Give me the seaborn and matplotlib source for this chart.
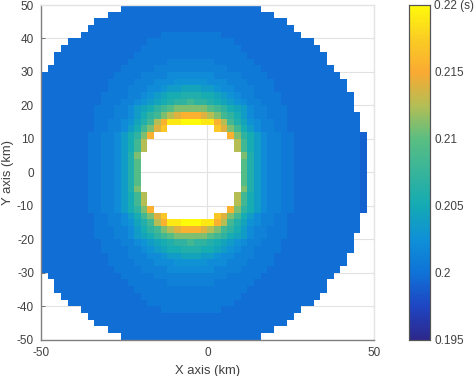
import numpy as np
import pandas as pd
import seaborn as sns
import matplotlib.pyplot as plt
from matplotlib.colors import LinearSegmentedColormap

# time per cell. one character = one 2 km cell, blank = no data
LEVEL_VALUES = {'0': 0.1991, '1': 0.19975, '2': 0.2005, '3': 0.2012, '4': 0.2020,
                '5': 0.2028, '6': 0.2036, '7': 0.2044, '8': 0.2052, '9': 0.2060,
                'a': 0.2070, 'b': 0.2082, 'c': 0.2095, 'd': 0.2110, 'e': 0.2125,
                'f': 0.2140, 'g': 0.2155, 'h': 0.2170, 'i': 0.2190, 'j': 0.2205}

CELL_ROWS = [
    "            111111111111111111111                 ",
    "          1111111111111111111111111               ",
    "        11111111111111111111111111111             ",
    "       1111111111111111111111111111111            ",
    "      111111111111" "222222222" "111111111111           ",
    "    111111111111" "2222222222222" "111111111111         ",
    "   111111111111" "222222222222222" "111111111111        ",
    "  111111111111" "22222222222222222" "111111111111       ",
    "  11111111111" "222222" "3333333" "222222" "11111111111       ",
    " 11111111111" "22222" "33333333333" "22222" "11111111111      ",
    "11111111111" "22223333" "4444444" "33332222" "11111111111     ",
    "1111111111" "2222333444" "55555" "4443332222" "11111111111    ",
    "1111111111" "2223334456" "67776" "6544333222" "11111111111    ",
    "111111111" "2222334567" "8899988" "7654332222" "11111111111   ",
    "111111111" "2223345678" "9aabaa9" "8765433222" "11111111111   ",
    "11111111" "22233" "4678abcdd" "d" "ddcba8764" "33222" "1111111111   ",
    "11111111" "22233" "468abdefg" "g" "gfedba864" "33222" "11111111111  ",
    "11111111" "2233" "4579begiij" "j" "jiigeb9754" "3322" "11111111111  ",
    "11111111" "2233" "468bdfh" "       " "hfdb864" "3322" "11111111111  ",
    "1111111" "2233" "468adg" "           " "gda864" "3322" "1111111111" "0 ",
    "1111111" "2233" "468be" "             " "eb864" "3322" "1111111111" "0 ",
    "1111111" "2233" "468be" "             " "eb864" "3322" "1111111111" "0 ",
    "1111111" "2233" "469d" "               " "d964" "3322" "1111111111" "0 ",
    "1111111" "2233" "469c" "               " "c964" "3322" "1111111111" "0 ",
    "1111111" "2233" "469c" "               " "c964" "3322" "1111111111" "0 ",
    "1111111" "2233" "469c" "               " "c964" "3322" "1111111111" "0 ",
    "1111111" "2233" "469c" "               " "c964" "3322" "1111111111" "0 ",
    "1111111" "2233" "469d" "               " "d964" "3322" "1111111111" "0 ",
    "1111111" "2233" "468be" "             " "eb864" "3322" "1111111111" "0 ",
    "1111111" "2233" "468be" "             " "eb864" "3322" "1111111111" "0 ",
    "1111111" "2233" "468adg" "           " "gda864" "3322" "1111111111" "0 ",
    "11111111" "2233" "468bdfh" "       " "hfdb864" "3322" "11111111111  ",
    "11111111" "2233" "4579begiij" "j" "jiigeb9754" "3322" "11111111111  ",
    "11111111" "22233" "468abdefg" "g" "gfedba864" "33222" "11111111111  ",
    "11111111" "22233" "4678abcdd" "d" "ddcba8764" "33222" "1111111111   ",
    "111111111" "2223345678" "9aabaa9" "8765433222" "11111111111   ",
    "111111111" "2222334567" "8899988" "7654332222" "11111111111   ",
    "1111111111" "2223334456" "67776" "6544333222" "11111111111    ",
    "1111111111" "2222333444" "55555" "4443332222" "11111111111    ",
    "11111111111" "22223333" "4444444" "33332222" "11111111111     ",
    " 11111111111" "22222" "33333333333" "22222" "11111111111      ",
    "  11111111111" "222222" "3333333" "222222" "11111111111       ",
    "  111111111111" "22222222222222222" "111111111111       ",
    "   111111111111" "222222222222222" "111111111111        ",
    "    111111111111" "2222222222222" "111111111111         ",
    "      111111111111" "222222222" "111111111111           ",
    "       1111111111111111111111111111111            ",
    "        11111111111111111111111111111             ",
    "          1111111111111111111111111               ",
    "            111111111111111111111                 ",
]

X_TICKS = [-50, 0, 50]
Y_TICKS = [-50, -40, -30, -20, -10, 0, 10, 20, 30, 40, 50]
CBAR_TICKS = [0.195, 0.2, 0.205, 0.21, 0.215, 0.22]
CBAR_LABELS = ['0.195', '0.2', '0.205', '0.21', '0.215', '0.22 (s)']

# colours sampled from the colorbar
cmap = LinearSegmentedColormap.from_list('bar', [
    (0.0, '#2d288c'), (0.1, '#1e46c3'), (0.2, '#0f73d7'), (0.3, '#0f91d7'),
    (0.4, '#14aab4'), (0.6, '#5abe82'), (0.7, '#b4be55'), (0.8, '#faaa32'),
    (0.9, '#facd23'), (1.0, '#fffa0a')])

for row in CELL_ROWS:
    assert len(row) == 50, row

grid = [[LEVEL_VALUES.get(c, np.nan) for c in row] for row in CELL_ROWS]
df = pd.DataFrame(grid)

sns.set_style("white")
plt.rcParams['font.family'] = ['Liberation Sans', 'DejaVu Sans']

W, H = 474, 376
fig = plt.figure(figsize=(W / 100, H / 100), dpi=100)
ax = fig.add_axes([41 / W, 1 - 339.7 / H, 332.7 / W, 334.7 / H])
cax = fig.add_axes([409 / W, 1 - 339.7 / H, 20.5 / W, 334.7 / H])

sns.heatmap(df, ax=ax, cbar_ax=cax, cmap=cmap, vmin=0.195, vmax=0.22,
            xticklabels=False, yticklabels=False, square=False)

ax.set_xticks([(x + 50) / 2 for x in X_TICKS])
ax.set_xticklabels([str(x) for x in X_TICKS])
ax.set_yticks([(50 - y) / 2 for y in Y_TICKS])
ax.set_yticklabels([str(y) for y in Y_TICKS])
ax.set_axisbelow(True)
ax.grid(True, color='#e2e2e2', linewidth=0.8)
ax.tick_params(direction='in', length=3, width=0.7, color='#707070', labelsize=8.5,
               labelcolor='#404040', pad=5, left=True, bottom=True)
for name, spine in ax.spines.items():
    spine.set_visible(True)
    spine.set_color('#808080' if name in ('left', 'bottom') else '#e4e4e4')
    spine.set_linewidth(1.0)

ax.set_xlabel('X axis (km)', fontsize=9.4, color='#404040', labelpad=4.5)
ax.set_ylabel('Y axis (km)', fontsize=9.4, color='#404040')
ax.yaxis.set_label_coords(-27 / 332.7, 0.5)

cax.set_yticks(CBAR_TICKS)
cax.set_yticklabels(CBAR_LABELS)
cax.tick_params(direction='in', right=True, length=2, width=0.7, color='#404040',
                labelsize=8.5, labelcolor='#404040', pad=3.5)
for spine in cax.spines.values():
    spine.set_visible(True)
    spine.set_color('#555555')
    spine.set_linewidth(0.8)

fig.savefig('out.png', dpi=100)
